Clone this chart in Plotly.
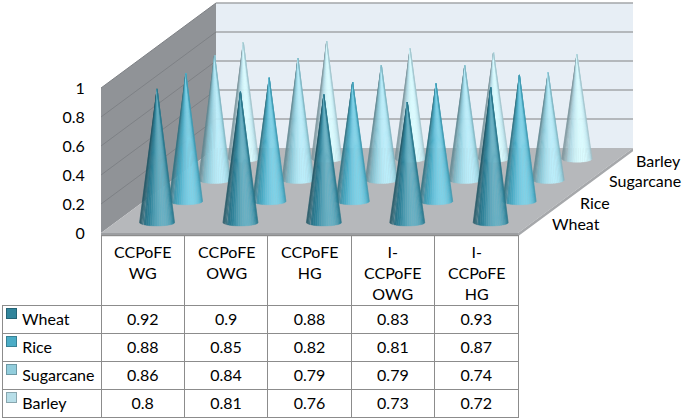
"""
Cone chart (Excel style 3-D cones) with data table underneath.
"""

import numpy as np
import plotly.graph_objects as go

# Data
categories = ["CCPoFE<br>WG", "CCPoFE<br>OWG", "CCPoFE<br>HG",
              "I-<br>CCPoFE<br>OWG", "I-<br>CCPoFE<br>HG"]
series = ["Wheat", "Rice", "Sugarcane", "Barley"]
wheat = [0.92, 0.9, 0.88, 0.83, 0.93]
rice = [0.88, 0.85, 0.82, 0.81, 0.87]
sugarcane = [0.86, 0.84, 0.79, 0.79, 0.74]
barley = [0.8, 0.81, 0.76, 0.73, 0.72]
values = [wheat, rice, sugarcane, barley]
colors = ["#31859C", "#4BACC6", "#92CDDC", "#B7DEE8"]
yticks = [0, 0.2, 0.4, 0.6, 0.8, 1]

# Page / projection setup (oblique view: depth goes right and up)
W, H = 685, 418
FRONT_X, ZERO_Y = 101, 233      # pixel of the front-left corner of the floor
COL_PX, UNIT_PX = 83.4, 145     # pixels per category / per unit of value
DX, DY = 115 / COL_PX, 85 / UNIT_PX   # full depth offset in axis units
TABLE_TOP, HEAD_H, ROW_H = 235, 70, 28
n_cat = len(categories)
FONT = "Lato, 'Open Sans', sans-serif"
WHITE = np.array([255.0, 255.0, 255.0])


def proj(c, f, v):
    return c + f * DX, v + f * DY


def hex_rgb(h):
    h = h.lstrip("#")
    return np.array([int(h[i:i + 2], 16) for i in (0, 2, 4)], float)


def mix(a, b, t):
    return a + (b - a) * t


def to_css(rgb):
    r, g, b = np.clip(rgb, 0, 255).astype(int)
    return f"rgb({r},{g},{b})"


def path(points):
    return "M " + " L ".join(f"{x:.4f},{y:.4f}" for x, y in points) + " Z"


fig = go.Figure()
shapes = []

# Back wall
bw = [proj(0, 1, 0), proj(n_cat, 1, 0), proj(n_cat, 1, 1), proj(0, 1, 1)]
shapes.append(dict(type="path", path=path(bw), fillcolor="#E7EEF5",
                   line=dict(width=0), layer="below"))
# Left wall
lw = [proj(0, 0, 0), proj(0, 1, 0), proj(0, 1, 1), proj(0, 0, 1)]
shapes.append(dict(type="path", path=path(lw), fillcolor="#909397",
                   line=dict(width=0), layer="below"))
# Gridlines on walls
for v in yticks[1:]:
    x0, y0 = proj(0, 1, v)
    x1, y1 = proj(n_cat, 1, v)
    shapes.append(dict(type="line", x0=x0, y0=y0, x1=x1, y1=y1,
                       line=dict(color="#A3A6A9", width=1.5), layer="below"))
    xa, ya = proj(0, 0, v)
    shapes.append(dict(type="line", x0=xa, y0=ya, x1=x0, y1=y0,
                       line=dict(color="#7E8185", width=1), layer="below"))
# Floor with a thin slab
fl = [proj(0, 0, 0), proj(n_cat, 0, 0), proj(n_cat, 1, 0), proj(0, 1, 0)]
shapes.append(dict(type="path", path=path(fl), fillcolor="#B6B8BB",
                   line=dict(width=0), layer="below"))
slab = 0.022
front = [proj(0, 0, 0), proj(n_cat, 0, 0), proj(n_cat, 0, -slab), proj(0, 0, -slab)]
side = [proj(n_cat, 0, 0), proj(n_cat, 1, 0), proj(n_cat, 1, -slab), proj(n_cat, 0, -slab)]
shapes.append(dict(type="path", path=path(front), fillcolor="#9C9EA1",
                   line=dict(width=0), layer="below"))
shapes.append(dict(type="path", path=path(side), fillcolor="#A6A8AB",
                   line=dict(width=0), layer="below"))

# Cones, back row first
N_STRIP = 24
LIGHT = 1.2
RY = 0.025
for s in reversed(range(len(series))):
    f = (s + 0.5) / len(series)
    base = hex_rgb(colors[s])
    dark = base * 0.66
    light = mix(np.clip(base * 1.13, 0, 255), WHITE, 0.25)
    r = 18 * (1 - 0.17 * f) / COL_PX
    for k in range(N_STRIP):
        a0 = np.pi - k * np.pi / N_STRIP
        a1 = np.pi - (k + 1) * np.pi / N_STRIP
        am = (a0 + a1) / 2
        inten = max(0.0, np.cos(am - LIGHT))
        if inten < 0.7:
            col = mix(dark, base, inten / 0.7)
        else:
            col = mix(base, light, (inten - 0.7) / 0.3)
        xs, ys = [], []
        for c in range(n_cat):
            cx, cy = proj(c + 0.5, f, 0)
            v = values[s][c]
            arc = np.linspace(a0, a1, 3)
            xs += [cx] + list(cx + r * np.cos(arc)) + [cx, None]
            ys += [cy + v] + list(cy - RY * np.sin(arc)) + [cy + v, None]
        fig.add_trace(go.Scatter(
            x=xs, y=ys, mode="lines", fill="toself",
            fillcolor=to_css(col), line=dict(color=to_css(col), width=0.4),
            hoverinfo="skip", showlegend=False,
        ))

# Series labels along the right edge of the floor
label_px = [(602, 223), (612, 202), (683, 180), (683, 160)]
for name, (lx, ly) in zip(series, label_px):
    fig.add_annotation(x=(lx - FRONT_X) / COL_PX, y=(ZERO_Y - ly) / UNIT_PX,
                       text=name, showarrow=False, xanchor="right",
                       font=dict(size=16, color="#000000", family=FONT))

# Category labels (table header text, each line centred)
for c, name in enumerate(categories):
    fig.add_annotation(x=c + 0.5, y=(ZERO_Y - (TABLE_TOP + 5)) / UNIT_PX,
                       text=name, showarrow=False, xanchor="center",
                       yanchor="top", align="center",
                       font=dict(size=16, color="#000000", family=FONT))

# Legend keys in the first table column
for i, col in enumerate(colors):
    ky = TABLE_TOP + HEAD_H + ROW_H * (i + 0.5)
    fig.add_annotation(
        xref="paper", yref="paper", x=6 / W, y=(H - ky) / H,
        text="", width=9, height=9, showarrow=False,
        bgcolor=col, bordercolor=to_css(hex_rgb(col) * 0.75),
        borderwidth=1, borderpad=0,
    )

# Data table
legend_col = ["\u00a0\u00a0\u00a0" + n for n in series]
table_cols = [legend_col] + [[str(values[s][c]) for s in range(len(series))]
                             for c in range(n_cat)]
grid = "#8C8C8C"
clear = "rgba(255,255,255,0)"
fig.add_trace(go.Table(
    domain=dict(x=[2 / W, (FRONT_X + n_cat * COL_PX) / W],
                y=[0, (H - TABLE_TOP) / H]),
    columnwidth=[FRONT_X - 2] + [COL_PX] * n_cat,
    header=dict(
        values=[""] * (n_cat + 1),
        height=HEAD_H,
        fill=dict(color=clear),
        line=dict(color=grid, width=[0] + [1] * n_cat),
        font=dict(size=16, color="#000000", family=FONT),
    ),
    cells=dict(
        values=table_cols,
        height=ROW_H,
        align=["left"] + ["center"] * n_cat,
        fill=dict(color=clear),
        line=dict(color=grid, width=1),
        font=dict(size=16, color="#000000", family=FONT),
    ),
))

fig.update_layout(
    width=W, height=H,
    margin=dict(l=0, r=0, t=0, b=0),
    paper_bgcolor="white", plot_bgcolor="rgba(0,0,0,0)",
    showlegend=False,
    shapes=shapes,
    font=dict(family=FONT, size=16, color="#000000"),
    xaxis=dict(domain=[FRONT_X / W, 1], range=[0, (W - FRONT_X) / COL_PX],
               visible=False, fixedrange=True),
    yaxis=dict(range=[-(H - ZERO_Y) / UNIT_PX, ZERO_Y / UNIT_PX],
               tickvals=yticks, ticktext=[f"{v:g}" for v in yticks],
               showgrid=False, zeroline=False, showline=False,
               ticks="outside", ticklen=12, tickcolor="rgba(0,0,0,0)",
               tickfont=dict(size=16, color="#000000", family=FONT),
               automargin=False, fixedrange=True),
)

# the page body has a default 8px margin; drop it so the figure sits at 0,0
fig.write_html("out.html", config={"displayModeBar": False},
               post_script="document.body.style.margin='0';")
